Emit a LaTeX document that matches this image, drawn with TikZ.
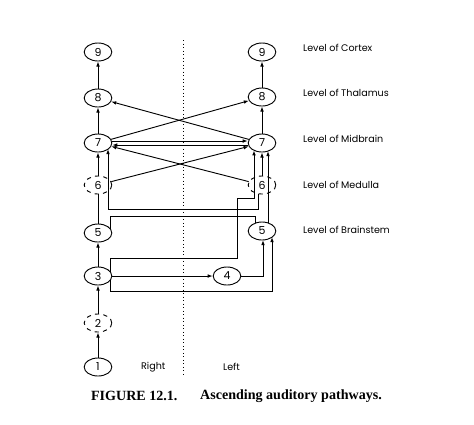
\documentclass[tikz,border=0pt]{standalone}
\usepackage{fontspec}
\setmainfont{Liberation Serif}
\newfontfamily\gothic{Poppins}
\usepackage{tikz}
\usetikzlibrary{calc,shapes.geometric,arrows.meta}
\tikzstyle{relay}       = [ellipse,draw,inner sep=0,minimum width=0.69cm,minimum height=0.45cm]
\tikzstyle{faint relay} = [relay,dashed]
\tikzstyle{tract}       = [-{Latex[length=3.6pt,width=2.6pt]}]
\tikzstyle{level label} = [anchor=west,font=\gothic\fontsize{6.8}{8}\selectfont]

\begin{document}
\begin{tikzpicture}[x=0.025cm,y=-0.025cm,line width=0.65pt,
                    font=\gothic\fontsize{7.8}{9}\selectfont
                    ]
\useasboundingbox (0,0) rectangle (474,424);

    % right side (left column)
    \node(r9)[relay] at (98,52) {9};
    \node(r8)[relay] at (98,98) {8};
    \node(r7)[relay] at (98,143) {7};
    \node(r6)[faint relay] at (98,185) {6};
    \node(r5)[relay] at (98,233) {5};
    \node(r3)[relay] at (98,276) {3};
    \node(r2)[faint relay] at (98,323) {2};
    \node(r1)[relay] at (98,367) {1};

    % left side (right column)
    \node(l9)[relay] at (262,52) {9};
    \node(l8)[relay] at (262,97) {8};
    \node(l7)[relay] at (262,143) {7};
    \node(l6)[faint relay] at (262,185) {6};
    \node(l5)[relay] at (262,231) {5};
    \node(l4)[relay] at (227,276) {4};

    % midline
    \coordinate(mtop) at (183,40);
    \coordinate(mbot) at (183,376);
    \draw[dotted,line width=0.5pt] (mtop) -- (mbot);

    \node(cortex)[level label] at (298,48) {Level of Cortex};
    \node(thalamus)[level label] at (298,93) {Level of Thalamus};
    \node(midbrain)[level label] at (298,139) {Level of Midbrain};
    \node(medulla)[level label] at (298,185) {Level of Medulla};
    \node(brainstem)[level label] at (298,230) {Level of Brainstem};
    \node(right)[level label] at (136,367) {Right};
    \node(left)[level label] at (218,367) {Left};

    % straight up each side
    \draw[tract] (r1) -- (r2);
    \draw[tract] (r2) -- (r3);
    \draw[tract] (r3) -- (r5);
    \draw (r5) -- (r6);
    \draw[tract] (r6) -- (r7);
    \draw[tract] (r7) -- (r8);
    \draw[tract] (r8) -- (r9);
    \draw[tract] (l6) -- (l7);
    \draw[tract] (l7) -- (l8);
    \draw[tract] (l8) -- (l9);
    \draw[tract] ($(l5.center)+(6,-8)$) -- ($(l7.center)+(6,8)$);

    % crossings
    \draw[tract] (r7) -- (l8);
    \draw[tract] (l7) -- (r8);
    \draw[tract] (r6) -- (l7);
    \draw[tract] (l6) -- (r7);
    \draw[tract] ($(r7.east)+(0,-2)$) -- ($(l7.west)+(0,-2)$);
    \draw[tract] ($(l7.west)+(0,2)$) -- ($(r7.east)+(0,2)$);

    % long routes
    \draw[tract] ($(l6.center)+(-4,8.5)$) |- ($(r7.center)+(10,66)$) -- ($(r7.center)+(10,6)$);
    \draw ($(r5.center)+(12,-4.2)$) |- ($(l5.center)+(-7,-15)$) -- ($(l5.center)+(-7,-7.7)$);
    \draw[tract] ($(r3.center)+(12,-4.2)$) |- ($(r3.center)+(139,-18)$)
        |- ($(l7.center)+(-8,55)$) -- ($(l7.center)+(-8,7.3)$);
    \draw[tract] (r3) -- (l4);
    \draw[tract] (l4) -| ($(l5.center)+(1,9)$);
    \draw[tract] ($(r3.center)+(12,4.2)$) |- ($(l5.center)+(10,60)$) -- ($(l5.center)+(10,6)$);

    \node(figno)[anchor=west,font=\rmfamily\bfseries\fontsize{10}{12}\selectfont] at (86,396) {FIGURE 12.1.};
    \node(caption)[anchor=west,font=\rmfamily\bfseries\fontsize{10}{12}\selectfont] at (195,396) {Ascending auditory pathways.};

\end{tikzpicture}
\end{document}
